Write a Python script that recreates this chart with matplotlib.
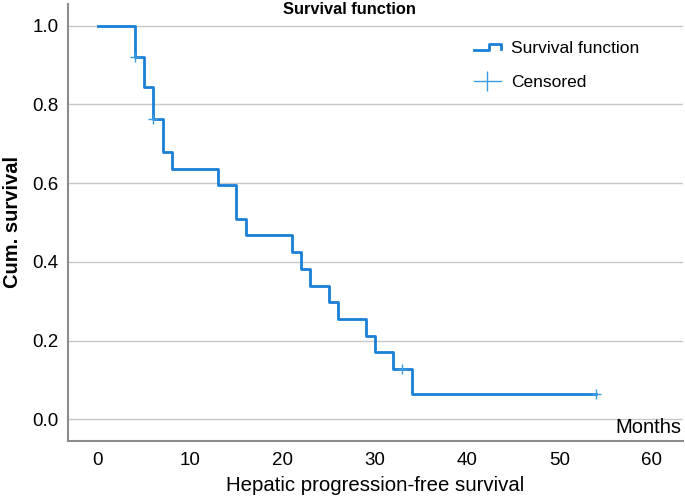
import matplotlib
matplotlib.use("Agg")
import matplotlib.pyplot as plt
from matplotlib.legend_handler import HandlerBase
from matplotlib.lines import Line2D

plt.rcParams['font.family'] = ['Liberation Sans', 'DejaVu Sans']

# Data
times = [0, 4, 5, 6, 7, 8, 13, 15, 16, 21, 22, 23, 25, 26, 29, 30, 32, 34, 54]
surv = [1.0, 0.921, 0.843, 0.764, 0.679, 0.636, 0.594, 0.509, 0.467, 0.424,
        0.382, 0.339, 0.297, 0.255, 0.212, 0.170, 0.127, 0.064, 0.064]
cens_t = [4, 6, 33, 54]
cens_s = [0.921, 0.764, 0.127, 0.064]
xticks = [0, 10, 20, 30, 40, 50, 60]
yticks = [0.0, 0.2, 0.4, 0.6, 0.8, 1.0]

line_col = '#1a7fd6'
cens_col = '#3a9ae0'

fig = plt.figure(figsize=(6.85, 5.01), dpi=100)
ax = fig.add_axes([68/685, 60/501, 615/685, 437/501])

ax.step(times, surv, where='post', color=line_col, lw=2.0, zorder=3)
ax.plot(cens_t, cens_s, linestyle='none', marker='+', color=cens_col,
        markersize=7, markeredgewidth=1.0, zorder=4)

ax.set_xlim(-3.25, 63.4)
ax.set_ylim(-0.055, 1.055)
ax.set_xticks(xticks)
ax.set_yticks(yticks)
ax.set_yticklabels([f'{v:.1f}' for v in yticks])
ax.tick_params(axis='both', length=0, labelsize=13.5, colors='black')
ax.tick_params(axis='x', pad=8)
ax.tick_params(axis='y', pad=7)
ax.grid(axis='y', color='#c8c8c8', lw=1.0, zorder=0)
ax.set_axisbelow(True)
for s in ['top', 'right']:
    ax.spines[s].set_visible(False)
for s in ['left', 'bottom']:
    ax.spines[s].set_color('#8c8c8c')
    ax.spines[s].set_linewidth(1.5)

ax.set_xlabel('Hepatic progression-free survival', fontsize=14.7, labelpad=5)
ax.set_ylabel('Cum. survival', fontsize=14.5, fontweight='bold', labelpad=7)
ax.text(0.998, 0.009, 'Months', transform=ax.transAxes, ha='right', va='bottom',
        fontsize=14.5)
fig.text(0.5095, 0.981, 'Survival function', ha='center', va='center',
         fontsize=11.8, fontweight='bold')


class StepHandler(HandlerBase):
    def create_artists(self, legend, orig_handle, xdescent, ydescent,
                       width, height, fontsize, trans):
        x0 = -xdescent
        y0 = -ydescent
        xs = [x0, x0 + width * 0.55, x0 + width * 0.55, x0 + width, x0 + width]
        ys = [y0 + height * 0.25, y0 + height * 0.25, y0 + height * 0.75,
              y0 + height * 0.75, y0 + height * 0.35]
        ln = Line2D(xs, ys, color=line_col, lw=2.0, transform=trans)
        return [ln]


step_handle = Line2D([], [], color=line_col, lw=2.0)
cens_handle = Line2D([], [], color=cens_col, lw=1.0, marker='|',
                     markersize=14, markeredgewidth=1.0)
leg = ax.legend([step_handle, cens_handle], ['Survival function', 'Censored'],
                handler_map={step_handle: StepHandler()},
                loc='upper left', bbox_to_anchor=(0.634, 0.952), frameon=False,
                fontsize=12.5, handlelength=1.6, handletextpad=0.55,
                labelspacing=1.1)

fig.savefig('out.png', dpi=100)
